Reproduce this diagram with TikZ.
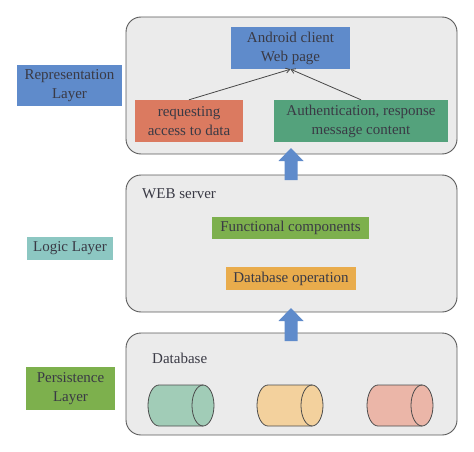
\documentclass[tikz,border=0pt]{standalone}
\usepackage{fontspec}
\setmainfont{Liberation Serif}
\usetikzlibrary{arrows.meta}
\definecolor{panelgray}{HTML}{EBEBEB}
\definecolor{panelline}{HTML}{5A5A5A}
\definecolor{bluebox}{HTML}{5F8BCB}
\definecolor{redbox}{HTML}{DB7A60}
\definecolor{greenbox}{HTML}{54A27C}
\definecolor{tealbox}{HTML}{8CC7C2}
\definecolor{limebox}{HTML}{7DB04D}
\definecolor{orangebox}{HTML}{E9AC4C}
\definecolor{txt}{HTML}{3A3A45}
\tikzset{
  x=1pt,y=-1pt,
  panel/.style={draw=panelline,line width=0.9pt,fill=panelgray,rounded corners=15pt},
  tbox/.style={inner sep=0pt,align=center,text=txt,font=\fontsize{15}{19}\selectfont},
  ptext/.style={inner sep=0pt,anchor=base west,text=txt,font=\fontsize{15}{16}\selectfont},
  link/.style={draw=panelline!80!black,line width=0.8pt,-{Straight Barb[length=4pt,width=5pt]}},
  bigarrow/.style={fill=bluebox,draw=none},
  cyl/.style={draw=panelline!85!black,line width=0.8pt},
}
\newcommand{\cylat}[2]{%
  \fill[#2] (#1+55,385) -- (#1+11,385) arc[start angle=270,end angle=90,x radius=11,y radius=20.5] -- (#1+55,426) arc[start angle=90,end angle=-90,x radius=11,y radius=20.5] -- cycle;
  \draw[cyl] (#1+55,385) -- (#1+11,385) arc[start angle=270,end angle=90,x radius=11,y radius=20.5] -- (#1+55,426);
  \draw[cyl] (#1+55,405.5) ellipse[x radius=11,y radius=20.5];
}
\begin{document}
\begin{tikzpicture}
\useasboundingbox (0,0) rectangle (474,452);
\node[panel,minimum width=331pt,minimum height=137pt,inner sep=0pt] (top) at (291.5,85.5) {};
\node[panel,minimum width=331pt,minimum height=137pt,inner sep=0pt] (mid) at (291.5,243.5) {};
\node[panel,minimum width=331pt,minimum height=102pt,inner sep=0pt] (bot) at (291.5,384) {};

\node[tbox,fill=bluebox,minimum width=119pt,minimum height=42pt] (client) at (290.5,48) {Android client\\Web page};
\node[tbox,fill=redbox,minimum width=108pt,minimum height=42pt] (req) at (189,121) {requesting\\access to data};
\node[tbox,fill=greenbox,minimum width=174pt,minimum height=42pt] (auth) at (361,121) {Authentication, response\\message content};
\draw[link] (req.north) -- (client.south);
\draw[link] (auth.north) -- (client.south);

\node[tbox,fill=bluebox,minimum width=105pt,minimum height=41pt] (rep) at (69.5,85.5) {Representation\\Layer};
\node[tbox,fill=tealbox,minimum width=86pt,minimum height=23pt] (logic) at (70,248.5) {Logic Layer};
\node[tbox,fill=limebox,minimum width=89pt,minimum height=43pt] (pers) at (70.5,388.5) {Persistence\\Layer};

\node[ptext] (web) at (142,198) {WEB server};
\node[tbox,fill=limebox,minimum width=157pt,minimum height=22pt] (func) at (290.5,228) {Functional components};
\node[tbox,fill=orangebox,minimum width=130pt,minimum height=23pt] (dbop) at (291,278.5) {Database operation};
\node[ptext] (db) at (152,363) {Database};

\fill[bigarrow] (291,148) -- (303.5,161) -- (297.5,161) -- (297.5,180) -- (284.5,180) -- (284.5,161) -- (278.5,161) -- cycle;
\fill[bigarrow] (291,308) -- (303.5,321) -- (297.5,321) -- (297.5,341) -- (284.5,341) -- (284.5,321) -- (278.5,321) -- cycle;

\cylat{148}{greenbox!55!white}
\cylat{257}{orangebox!55!white}
\cylat{367}{redbox!55!white}
\end{tikzpicture}
\end{document}
